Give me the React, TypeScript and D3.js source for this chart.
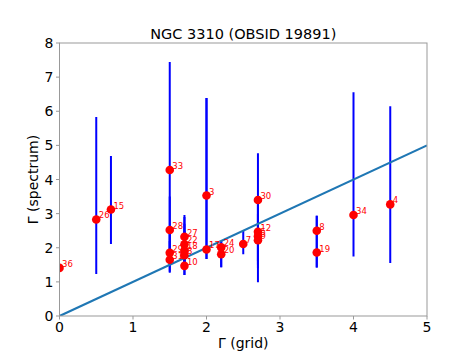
import React from "react";
import * as d3 from "d3";

const gridGamma = [0.0, 0.5, 0.7, 1.5, 1.5, 1.5, 1.5, 1.7, 1.7, 1.7, 1.7, 1.7, 2.0, 2.0, 2.2, 2.2, 2.5, 2.7, 2.7, 2.7, 2.7, 3.5, 3.5, 4.0, 4.5];
const specGamma = [1.41, 2.83, 3.12, 4.28, 2.52, 1.85, 1.65, 2.32, 2.1, 1.92, 1.78, 1.47, 3.53, 1.95, 2.01, 1.81, 2.11, 3.4, 2.47, 2.34, 2.22, 2.5, 1.86, 2.96, 3.27];
const errLow = [1.41, 1.23, 2.11, 1.27, 1.9, 1.5, 1.3, 1.2, 1.6, 1.5, 1.4, 1.2, 1.67, 1.67, 1.43, 1.43, 1.81, 0.99, 1.5, 1.6, 1.4, 1.42, 1.42, 1.74, 1.55];
const errHigh = [1.41, 5.83, 4.69, 7.44, 3.5, 2.6, 2.2, 2.96, 2.9, 2.7, 2.5, 2.2, 6.39, 6.39, 2.2, 2.2, 2.49, 4.77, 3.5, 3.3, 3.0, 2.94, 2.94, 6.56, 6.15];
const pointLabels = ["36", "26", "15", "33", "28", "29", "31", "27", "22", "18", "8", "10", "3", "17", "24", "20", "7", "30", "12", "5", "9", "8", "19", "34", "4"];

const xTicks = [0, 1, 2, 3, 4, 5];
const yTicks = [0, 1, 2, 3, 4, 5, 6, 7, 8];
const oneToOne = [0, 5];

export default function App() {
  const W = 474, H = 355;
  const left = 59.5, right = 427, top = 43, bottom = 316;
  const x = d3.scaleLinear().domain([0, 5]).range([left, right]);
  const y = d3.scaleLinear().domain([0, 8]).range([bottom, top]);
  const font = "DejaVu Sans, sans-serif";
  const line = d3.line<number>().x((d) => x(d)).y((d) => y(d));
  const frame = "#999";
  return (
    <svg width={W} height={H} style={{ position: "absolute", left: 0, top: 0, background: "#fff" }} fontFamily={font}>
      <defs>
        <clipPath id="plotclip">
          <rect x={left} y={top} width={right - left} height={bottom - top} />
        </clipPath>
      </defs>
      <text x={(left + right) / 2} y={39} textAnchor="middle" fontSize={14.5} fill="#000">NGC 3310 (OBSID 19891)</text>
      <g clipPath="url(#plotclip)">
        {gridGamma.map((g, i) => (
          <line key={"e" + i} x1={x(g)} x2={x(g)} y1={y(errLow[i])} y2={y(errHigh[i])} stroke="#0000ff" strokeWidth={2} />
        ))}
        <path d={line(oneToOne) || ""} stroke="#1f77b4" strokeWidth={2.2} fill="none" />
        {gridGamma.map((g, i) => (
          <circle key={"p" + i} cx={x(g)} cy={y(specGamma[i])} r={4.3} fill="#ff0000" />
        ))}
        {gridGamma.map((g, i) => (
          <text key={"t" + i} x={x(g) + 2.5} y={y(specGamma[i]) - 1} fontSize={8.5} fill="#ff0000">{pointLabels[i]}</text>
        ))}
      </g>
      <rect x={left} y={top} width={right - left} height={bottom - top} fill="none" stroke={frame} strokeWidth={1} />
      {xTicks.map((t) => (
        <g key={"xt" + t}>
          <line x1={x(t)} x2={x(t)} y1={bottom} y2={bottom + 3.5} stroke={frame} />
          <text x={x(t)} y={bottom + 16} textAnchor="middle" fontSize={14} fill="#000">{t}</text>
        </g>
      ))}
      {yTicks.map((t) => (
        <g key={"yt" + t}>
          <line x1={left} x2={left - 3.5} y1={y(t)} y2={y(t)} stroke={frame} />
          <text x={left - 6} y={y(t) + 5} textAnchor="end" fontSize={14} fill="#000">{t}</text>
        </g>
      ))}
      <text x={(left + right) / 2} y={348} textAnchor="middle" fontSize={14} fill="#000">Γ (grid)</text>
      <text transform={`translate(38,${(top + bottom) / 2}) rotate(-90)`} textAnchor="middle" fontSize={14} fill="#000">Γ (spectrum)</text>
    </svg>
  );
}
